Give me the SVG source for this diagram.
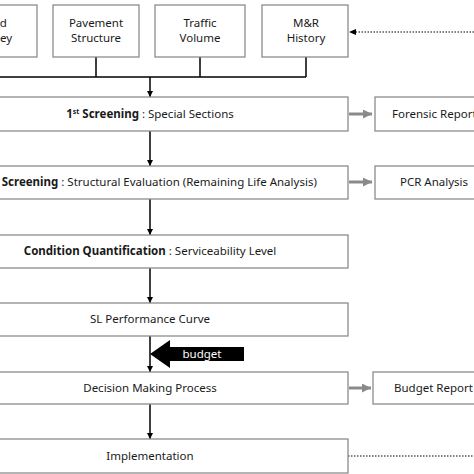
<svg xmlns="http://www.w3.org/2000/svg" width="474" height="474" viewBox="0 0 474 474">
<defs>
<style>
.box{fill:#fff;stroke:#8c8c8c;stroke-width:1.3}
.t{font-family:"Noto Sans","DejaVu Sans",sans-serif;font-size:11.5px;fill:#1a1a1a}
.m{text-anchor:middle}
.b{font-weight:bold}
.ln{stroke:#000;stroke-width:1.5;fill:none}
.ga{stroke:#8a8a8a;stroke-width:3;fill:none}
.dot{stroke:#000;stroke-width:1.2;stroke-dasharray:1.5 1.5;fill:none}
</style>
<marker id="ah" viewBox="0 0 10 10" refX="10" refY="5" markerWidth="6" markerHeight="6" markerUnits="userSpaceOnUse" orient="auto"><path d="M0,0L10,5L0,10z" fill="#000"/></marker>
<marker id="gh" viewBox="0 0 10 10" refX="10" refY="5" markerWidth="9" markerHeight="9" markerUnits="userSpaceOnUse" orient="auto"><path d="M0,0L10,5L0,10z" fill="#8a8a8a"/></marker>
</defs>
<g id="connectors">
<path class="ln" d="M0,77H306M96,57V77M200,57V77M306,57V77"/>
<line class="ln" x1="150" y1="77" x2="150" y2="97" marker-end="url(#ah)"/>
<line class="ln" x1="150" y1="131" x2="150" y2="166" marker-end="url(#ah)"/>
<line class="ln" x1="150" y1="199" x2="150" y2="235" marker-end="url(#ah)"/>
<line class="ln" x1="150" y1="268" x2="150" y2="303" marker-end="url(#ah)"/>
<line class="ln" x1="150" y1="336" x2="150" y2="372" marker-end="url(#ah)"/>
<line class="ln" x1="150" y1="404" x2="150" y2="439" marker-end="url(#ah)"/>
<line class="ga" x1="349" y1="114" x2="372" y2="114" marker-end="url(#gh)"/>
<line class="ga" x1="349" y1="182" x2="372" y2="182" marker-end="url(#gh)"/>
<line class="ga" x1="349" y1="388" x2="371" y2="388" marker-end="url(#gh)"/>
<line class="dot" x1="474" y1="32" x2="354" y2="32"/>
<path d="M349,32L356,29L356,35z" fill="#000"/>
<line class="dot" x1="348" y1="456" x2="474" y2="456"/>
</g>
<g id="field-survey"><rect class="box" x="-49" y="5" width="86" height="52"/><text class="t m" x="-6" y="27">Field</text><text class="t m" x="-6" y="42">Survey</text></g>
<g id="pavement-structure"><rect class="box" x="53" y="5" width="86" height="52"/><text class="t m" x="96" y="27">Pavement</text><text class="t m" x="96" y="42">Structure</text></g>
<g id="traffic-volume"><rect class="box" x="155" y="5" width="90" height="52"/><text class="t m" x="200" y="27">Traffic</text><text class="t m" x="200" y="42">Volume</text></g>
<g id="mr-history"><rect class="box" x="262" y="5" width="86" height="52"/><text class="t m" x="306" y="27">M&amp;R</text><text class="t m" x="306" y="42">History</text></g>
<g id="screening1"><rect class="box" x="-48" y="97" width="396" height="34"/><text class="t m" x="150" y="118"><tspan class="b">1<tspan font-size="7" dy="-4">st</tspan><tspan dy="4"> Screening</tspan></tspan> : Special Sections</text></g>
<g id="screening2"><rect class="box" x="-48" y="166" width="396" height="33"/><text class="t m" x="150" y="186"><tspan class="b">2<tspan font-size="7" dy="-4">nd</tspan><tspan dy="4"> Screening</tspan></tspan> : Structural Evaluation (Remaining Life Analysis)</text></g>
<g id="condition"><rect class="box" x="-48" y="235" width="396" height="33"/><text class="t m" x="150" y="255"><tspan class="b">Condition Quantification</tspan> : Serviceability Level</text></g>
<g id="sl-curve"><rect class="box" x="-48" y="303" width="396" height="33"/><text class="t m" x="150" y="323">SL Performance Curve</text></g>
<g id="budget"><path d="M150,354L170,340V347H244V361H170V368z" fill="#000"/><text class="t m" x="202" y="358" style="fill:#fff">budget</text></g>
<g id="decision"><rect class="box" x="-48" y="372" width="396" height="32"/><text class="t m" x="150" y="392">Decision Making Process</text></g>
<g id="implementation"><rect class="box" x="-48" y="439" width="396" height="34"/><text class="t m" x="150" y="460">Implementation</text></g>
<g id="forensic"><rect class="box" x="375" y="97" width="118" height="34"/><text class="t" x="392" y="118">Forensic Report</text></g>
<g id="pcr"><rect class="box" x="375" y="166" width="118" height="33"/><text class="t" x="400" y="186">PCR Analysis</text></g>
<g id="budget-report"><rect class="box" x="373" y="372" width="120" height="32"/><text class="t" x="394" y="392">Budget Report</text></g>
</svg>
